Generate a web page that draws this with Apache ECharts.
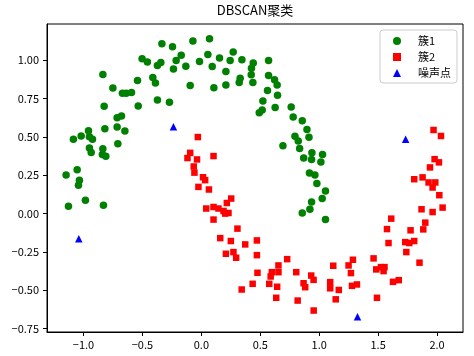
<!DOCTYPE html>
<html>
<head>
<meta charset="utf-8">
<script src="https://cdn.jsdelivr.net/npm/echarts@6/dist/echarts.min.js"></script>
<style>html,body{margin:0;padding:0;background:#fff;}#c{width:474px;height:356px;}</style>
</head>
<body>
<div id="c"></div>
<script>
const titleText = 'DBSCAN聚类';
const seriesNames = ['簇1', '簇2', '噪声点'];
const xTicks = [-1.0, -0.5, 0.0, 0.5, 1.0, 1.5, 2.0];
const yTicks = [-0.75, -0.5, -0.25, 0.0, 0.25, 0.5, 0.75, 1.0];

const cluster1 = [
[-0.335,1.107],[-0.245,1.088],[-0.072,1.125],[-0.503,1.009],[-0.458,0.988],[-0.171,1.033],[-0.214,0.998],[-0.344,0.985],[-0.373,0.965],[-0.237,0.942],[-0.132,0.961],[-0.016,0.991],[-0.836,0.906],[-0.412,0.887],[-0.390,0.852],[-0.542,0.867],[-0.095,0.835],[-0.751,0.818],[-0.670,0.785],[-0.638,0.785],[-0.593,0.789],[-0.373,0.741],[-0.271,0.726],[-0.825,0.700],[-0.536,0.702],[-0.715,0.625],[-0.678,0.636],[-0.819,0.553],[-0.715,0.564],[-0.649,0.538],[-0.958,0.540],[-1.020,0.506],[-1.086,0.484],[-0.950,0.501],[-0.924,0.484],[-0.709,0.455],[-0.950,0.427],[-0.935,0.399],[-0.836,0.422],[-0.840,0.386],[-0.811,0.373],[-1.054,0.285],[-1.148,0.252],[-1.035,0.218],[-1.043,0.185],[-0.984,0.087],[-1.128,0.048],[-0.831,0.054],
[0.069,1.140],[0.055,1.037],[0.154,1.014],[0.270,1.053],[0.244,0.998],[0.344,1.003],[0.092,0.959],[0.208,0.926],[0.440,0.981],[0.425,0.948],[0.570,0.998],[0.423,0.905],[0.329,0.883],[0.321,0.854],[0.437,0.854],[0.106,0.821],[0.208,0.839],[0.570,0.900],[0.621,0.872],[0.643,0.839],[0.561,0.802],[0.646,0.772],[0.522,0.734],[0.516,0.676],[0.491,0.658],[0.626,0.691],[0.762,0.695],[0.779,0.630],[0.856,0.606],[0.896,0.549],[0.794,0.504],[0.913,0.497],[0.822,0.473],[0.834,0.424],[0.868,0.362],[0.692,0.442],[0.938,0.396],[0.935,0.353],[1.028,0.385],[1.014,0.337],[0.917,0.264],[0.963,0.252],[0.980,0.196],[1.053,0.148],[1.025,0.098],[0.935,0.076],[0.921,0.028],[0.856,0.004],[1.053,-0.039]
];

const cluster2 = [
[-0.030,0.499],[-0.095,0.396],[-0.118,0.362],[-0.037,0.353],[0.103,0.375],[-0.065,0.307],[-0.059,0.267],[0.014,0.237],[0.032,0.218],[-0.025,0.174],[0.064,0.157],[0.253,0.098],[0.216,0.069],[0.041,0.033],[0.103,0.043],[0.145,0.033],[0.188,0.017],[0.230,0.004],[0.202,0.000],[0.103,-0.039],[0.306,-0.098],[0.160,-0.160],[0.250,-0.179],[0.372,-0.201],[0.471,-0.175],[0.208,-0.262],[0.272,-0.251],[0.295,-0.288],[0.471,-0.271],[0.728,-0.297],[0.654,-0.338],[0.598,-0.382],[0.654,-0.382],[0.588,-0.410],[0.476,-0.386],[0.805,-0.382],[0.932,-0.404],[0.952,-0.432],[0.867,-0.454],[0.881,-0.480],[0.435,-0.458],[0.576,-0.458],[0.643,-0.477],[0.342,-0.495],[0.635,-0.549],[0.817,-0.567],[0.953,-0.632],[1.119,-0.340],[1.093,-0.447],[1.093,-0.487],[1.166,-0.498],[1.140,-0.559],
[1.979,0.355],[2.016,0.334],[1.940,0.301],[1.806,0.224],[1.877,0.236],[1.928,0.203],[1.985,0.203],[1.962,0.170],[2.019,0.120],[1.868,0.028],[1.962,0.010],[2.047,0.039],[1.611,-0.033],[1.900,-0.059],[1.883,-0.103],[1.575,-0.101],[1.775,-0.109],[1.588,-0.192],[1.730,-0.186],[1.764,-0.192],[1.806,-0.179],[1.739,-0.251],[1.851,-0.320],[1.286,-0.301],[1.461,-0.292],[1.249,-0.338],[1.269,-0.388],[1.484,-0.364],[1.524,-0.349],[1.554,-0.349],[1.546,-0.375],[1.278,-0.471],[1.320,-0.462],[1.626,-0.445],[1.675,-0.434],[1.490,-0.549],[1.970,0.545],[2.033,0.506]
];

const noise = [[-0.237,0.566],[-1.040,-0.164],[1.733,0.484],[1.325,-0.672]];

const FONT = '"Noto Sans CJK SC", "DejaVu Sans", sans-serif';
function fmt(v, d) {
  const s = Math.abs(v).toFixed(d);
  return (v < 0 ? '\u2212' : '') + s;
}

const chart = echarts.init(document.getElementById('c'), null, {renderer: 'canvas'});
chart.setOption({
  animation: false,
  backgroundColor: '#fff',
  title: {
    text: titleText,
    left: 255,
    textAlign: 'center',
    top: 4,
    padding: 0,
    textStyle: {fontFamily: FONT, fontSize: 13, fontWeight: 'normal', color: '#000'}
  },
  legend: {
    orient: 'vertical',
    left: 380,
    top: 30,
    data: [
      {name: seriesNames[0], icon: 'circle'},
      {name: seriesNames[1], icon: 'rect'},
      {name: seriesNames[2], icon: 'triangle'}
    ],
    itemWidth: 8,
    itemHeight: 8,
    itemGap: 4,
    padding: [5, 6, 4, 13],
    backgroundColor: 'rgba(255,255,255,0.8)',
    borderColor: '#cccccc',
    borderWidth: 1,
    borderRadius: 3,
    selectedMode: false,
    textStyle: {fontFamily: FONT, fontSize: 11, color: '#000', lineHeight: 12, padding: [0, 0, 0, 12]}
  },
  grid: {
    left: 47, right: 11, top: 24, bottom: 24,
    show: true, borderColor: '#000', borderWidth: 1, backgroundColor: 'transparent'
  },
  xAxis: {
    type: 'value', min: -1.31, max: 2.22,
    splitLine: {show: false},
    axisLine: {show: true, onZero: false, lineStyle: {color: '#000', width: 1}},
    axisTick: {show: true, inside: false, length: 4, customValues: xTicks, lineStyle: {color: '#000'}},
    axisLabel: {customValues: xTicks, margin: 7, fontFamily: FONT, fontSize: 11, color: '#000',
      formatter: v => fmt(v, 1)}
  },
  yAxis: {
    type: 'value', min: -0.772, max: 1.236,
    splitLine: {show: false},
    axisLine: {show: true, onZero: false, lineStyle: {color: '#000', width: 1}},
    axisTick: {show: true, inside: false, length: 4, customValues: yTicks, lineStyle: {color: '#000'}},
    axisLabel: {customValues: yTicks, margin: 8, fontFamily: FONT, fontSize: 11, color: '#000',
      formatter: v => fmt(v, 2)}
  },
  series: [
    {name: seriesNames[0], type: 'scatter', data: cluster1, symbol: 'circle', symbolSize: 7.5,
      itemStyle: {color: '#008000', opacity: 1}},
    {name: seriesNames[1], type: 'scatter', data: cluster2, symbol: 'rect', symbolSize: 6.5,
      itemStyle: {color: '#ff0000', opacity: 1}},
    {name: seriesNames[2], type: 'scatter', data: noise, symbol: 'triangle', symbolSize: 7.5,
      itemStyle: {color: '#0000ff', opacity: 1}}
  ]
});
</script>
</body>
</html>
